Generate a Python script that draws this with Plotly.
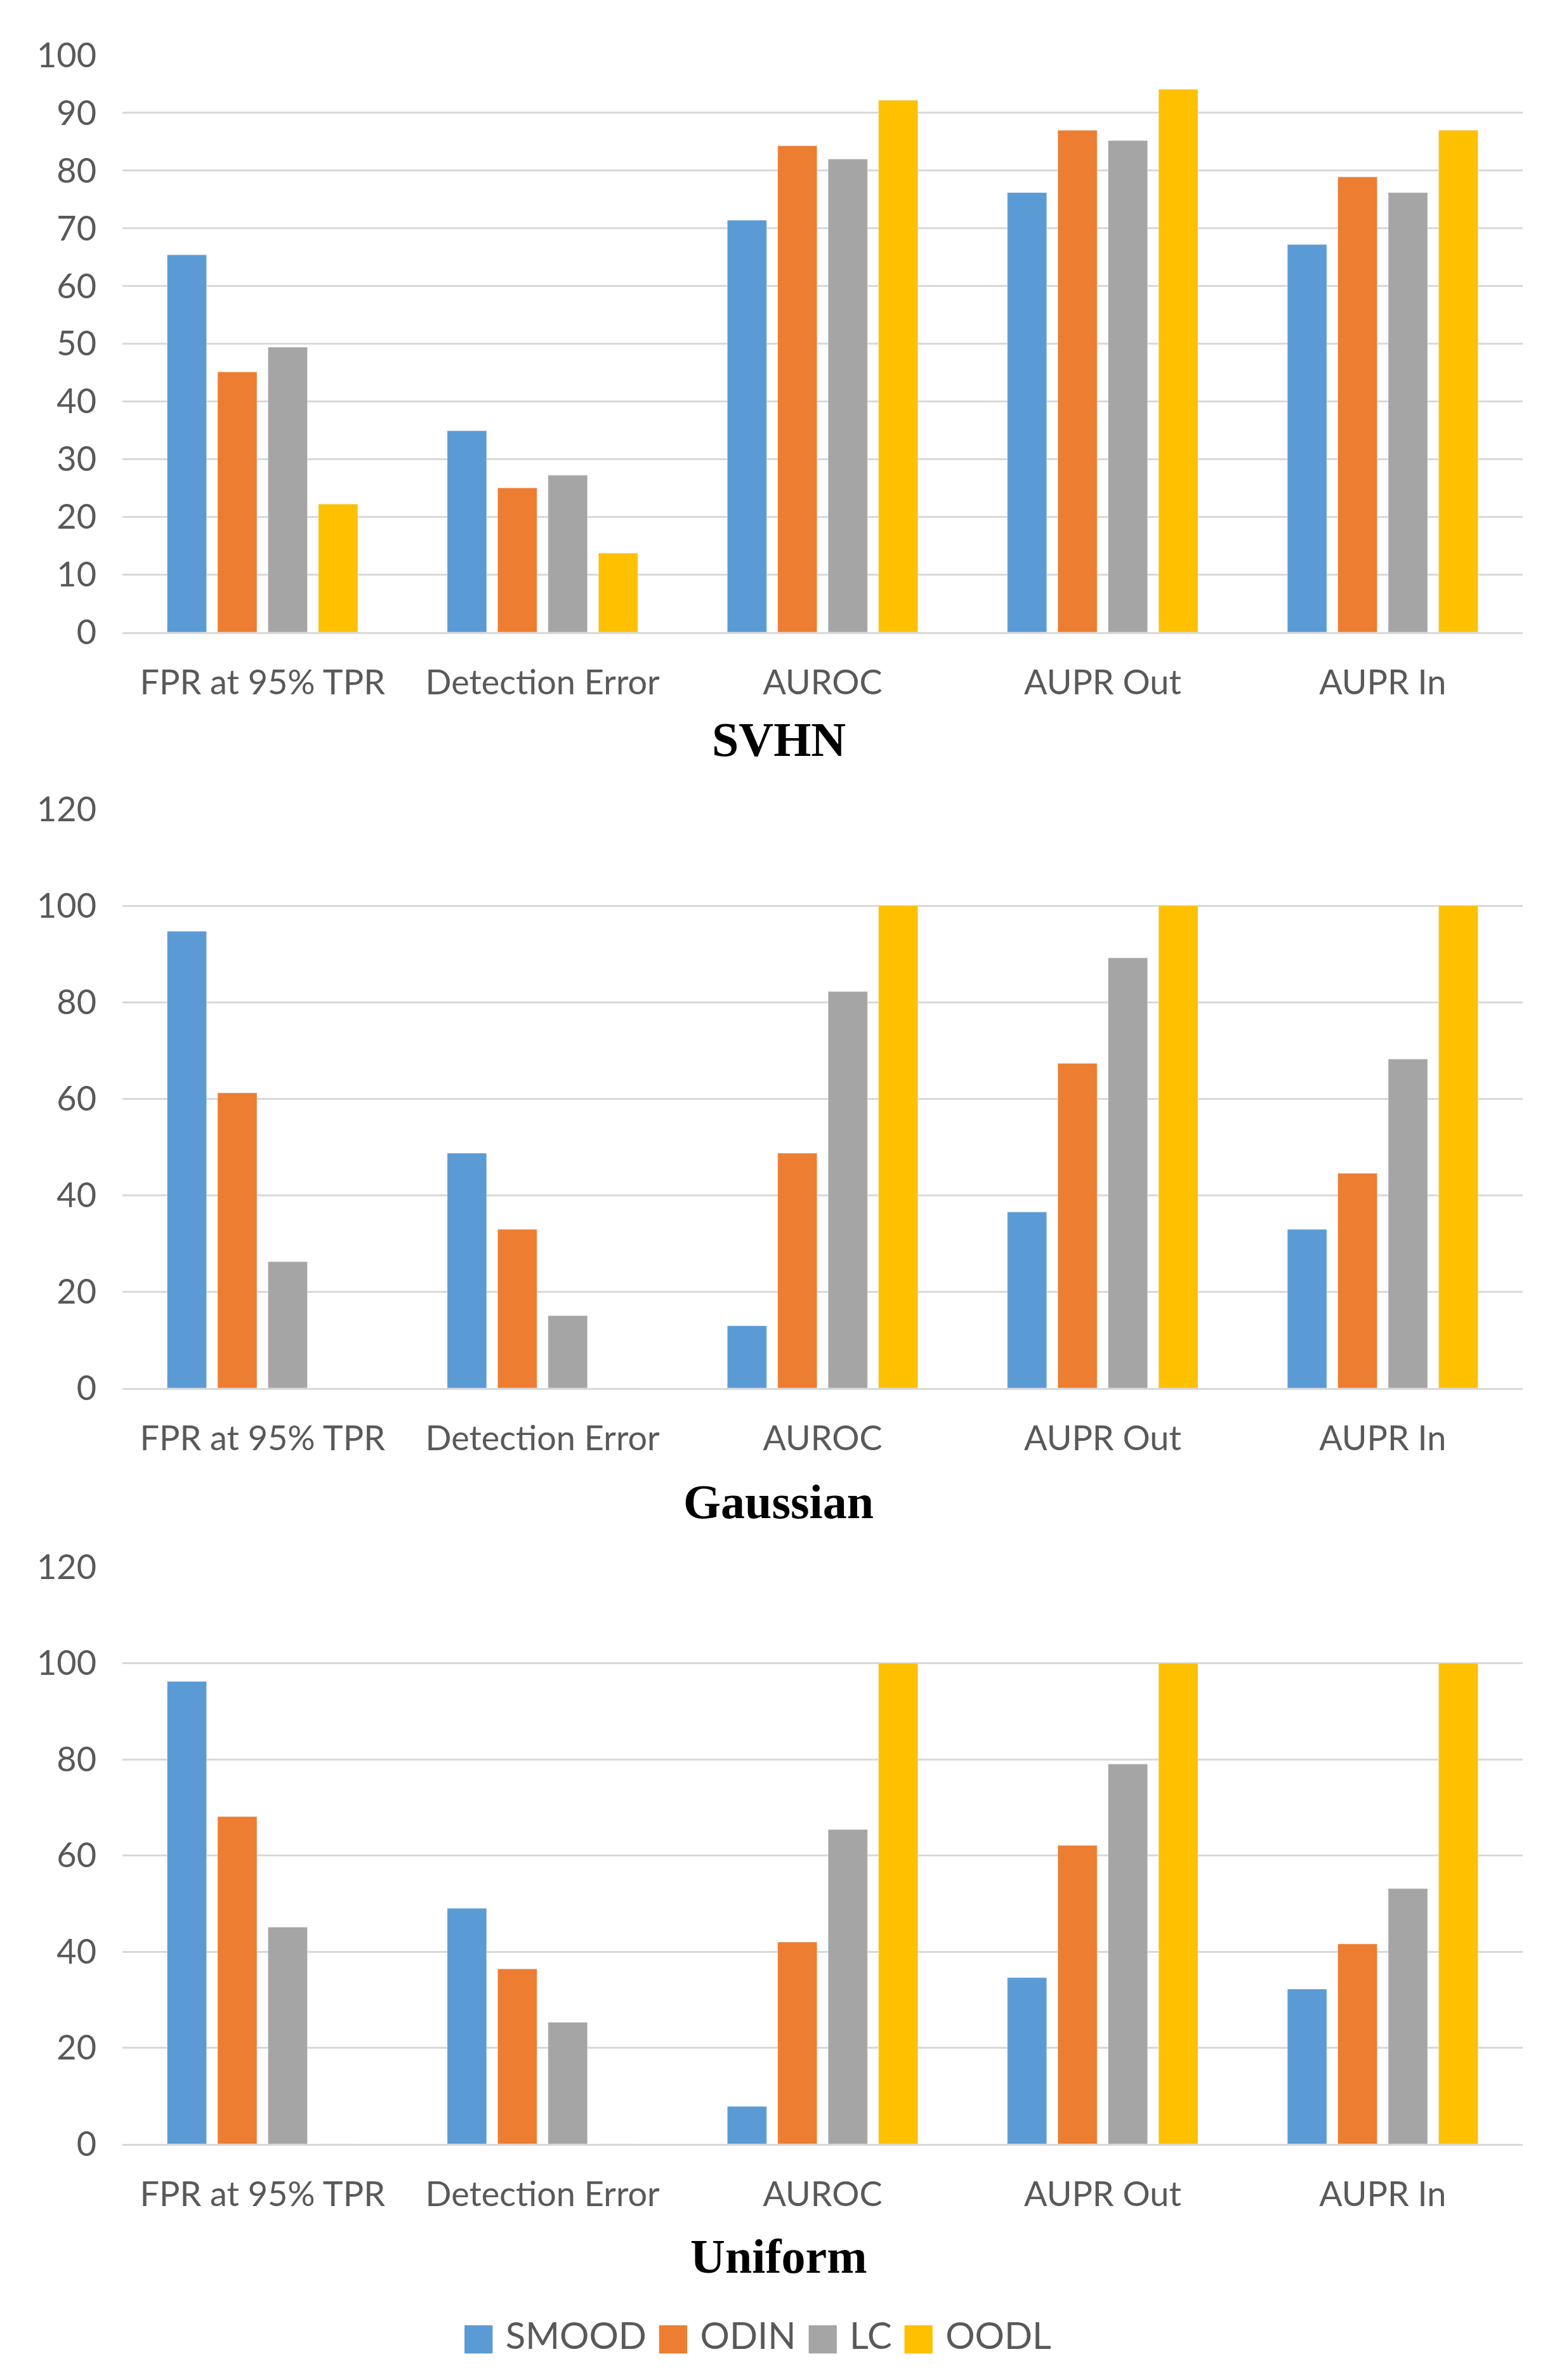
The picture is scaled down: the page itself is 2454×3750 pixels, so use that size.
import plotly.graph_objects as go
from plotly.subplots import make_subplots

categories = ["FPR at 95% TPR", "Detection Error", "AUROC", "AUPR Out", "AUPR In"]
methods = ["SMOOD", "ODIN", "LC", "OODL"]
colors = ["#5B9BD5", "#ED7D31", "#A5A5A5", "#FFC000"]

svhn_smood = [65.4, 34.9, 71.4, 76.2, 67.2]
svhn_odin = [45.1, 25.0, 84.3, 87.0, 78.9]
svhn_lc = [49.4, 27.2, 82.0, 85.2, 76.2]
svhn_oodl = [22.2, 13.7, 92.2, 94.1, 87.0]

gauss_smood = [94.7, 48.7, 12.9, 36.5, 32.9]
gauss_odin = [61.2, 32.9, 48.7, 67.3, 44.5]
gauss_lc = [26.2, 15.0, 82.2, 89.2, 68.2]
gauss_oodl = [0, 0, 100, 100, 100]

unif_smood = [96.2, 49.0, 7.8, 34.6, 32.2]
unif_odin = [68.1, 36.4, 42.0, 62.1, 41.6]
unif_lc = [45.1, 25.3, 65.4, 79.0, 53.1]
unif_oodl = [0, 0, 100, 100, 100]

panels = [
    ("SVHN", [svhn_smood, svhn_odin, svhn_lc, svhn_oodl], 100, 10),
    ("Gaussian", [gauss_smood, gauss_odin, gauss_lc, gauss_oodl], 120, 20),
    ("Uniform", [unif_smood, unif_odin, unif_lc, unif_oodl], 120, 20),
]

W, H = 2454, 3750
# pixel positions (top of plot, zero line, title centre) for each panel
panel_px = [(54, 979, 1151), (1263, 2191, 2373), (2478, 3403, 3583)]
legend_px = 3709
x_dom = [193 / W, 2400 / W]

tick_font = dict(family="Lato, Open Sans, sans-serif", size=54, color="#595959")
grid = "#D9D9D9"

fig = make_subplots(rows=3, cols=1)

for row, (name, series, ymax, dtick) in enumerate(panels, start=1):
    for method, vals, col in zip(methods, series, colors):
        fig.add_trace(
            go.Bar(
                x=categories,
                y=vals,
                name=method,
                marker_color=col,
                showlegend=False,
            ),
            row=row,
            col=1,
        )
    top, zero, title_y = panel_px[row - 1]
    fig.update_yaxes(
        domain=[1 - zero / H, 1 - top / H],
        range=[0, ymax],
        dtick=dtick,
        showgrid=True,
        gridcolor=grid,
        gridwidth=3,
        zeroline=False,
        showline=False,
        tickfont=tick_font,
        ticklabelstandoff=40,
        row=row,
        col=1,
    )
    fig.update_xaxes(
        domain=x_dom,
        showline=True,
        linecolor=grid,
        linewidth=3,
        tickfont=tick_font,
        ticks="",
        ticklabelstandoff=30,
        row=row,
        col=1,
    )
    fig.add_annotation(
        text="<b>" + name + "</b>",
        xref="paper",
        yref="paper",
        x=0.5,
        y=1 - title_y / H,
        xanchor="center",
        yanchor="middle",
        showarrow=False,
        font=dict(family="Liberation Serif, Times New Roman, serif", size=76, color="#000000"),
    )

# office-style legend row: coloured square + name
nb = "\u00a0"
legend_text = nb.join(
    '<span style="color:' + col + '">■</span>' + nb + method
    for method, col in zip(methods, colors)
)
fig.add_annotation(
    text=legend_text,
    xref="paper",
    yref="paper",
    x=0.4858,
    y=1 - legend_px / H,
    xanchor="center",
    yanchor="middle",
    showarrow=False,
    font=dict(family="Lato, DejaVu Sans, sans-serif", size=58, color="#595959"),
)

fig.update_layout(
    width=W,
    height=H,
    margin=dict(l=0, r=0, t=0, b=0),
    plot_bgcolor="#FFFFFF",
    paper_bgcolor="#FFFFFF",
    barmode="group",
    bargap=0.28,
    bargroupgap=0.22,
    showlegend=False,
)

fig.write_html(
    "out.html",
    config={"displayModeBar": False},
    post_script="document.body.style.margin='0';",
)
